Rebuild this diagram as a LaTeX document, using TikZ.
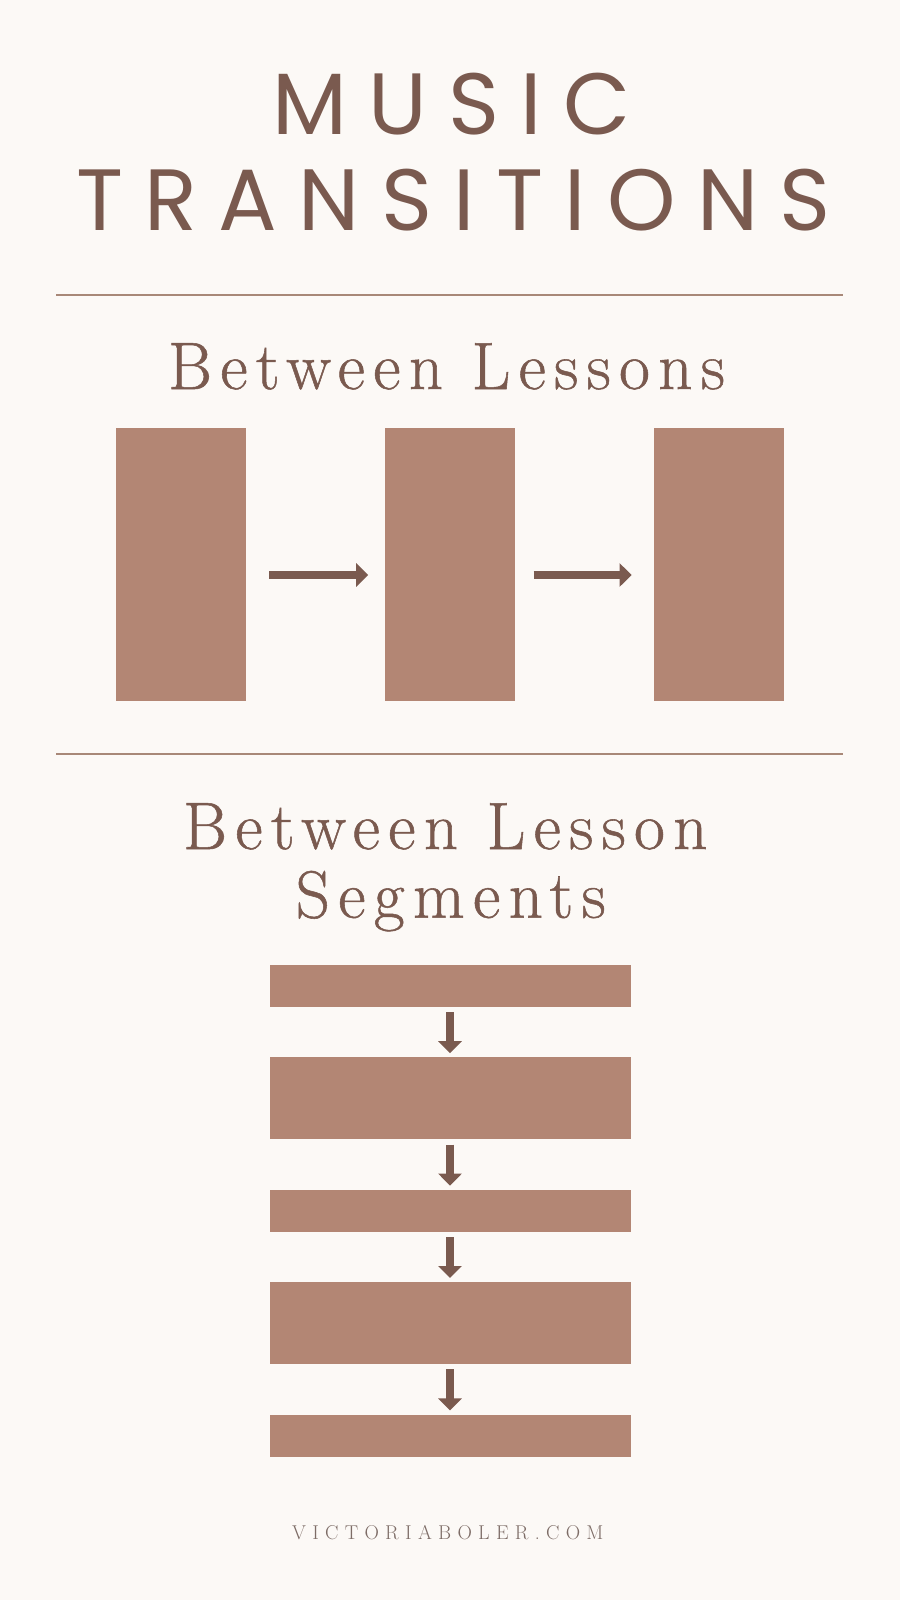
\documentclass[tikz,border=0pt]{standalone}
\usepackage{fontspec}
\usepackage{tikz}
\usetikzlibrary{positioning,arrows.meta}
\newfontfamily\titlefont[LetterSpace=24.5]{Poppins}
\newfontfamily\headfont[LetterSpace=12.5,FakeBold=0.8]{Latin Modern Roman}
\newfontfamily\sitefont[LetterSpace=31.5]{Latin Modern Roman}
\definecolor{paper}{HTML}{FCF9F6}
\definecolor{clay}{HTML}{B38674}
\definecolor{cocoa}{HTML}{7A5A4F}
\definecolor{rulecol}{HTML}{A88878}
\definecolor{ink}{HTML}{7D6C66}

\begin{document}
\begin{tikzpicture}[x=1pt,y=1pt]
	\tikzstyle{every node}+=[inner sep=0pt]
	\tikzstyle{block}=[fill=clay, rectangle]
	\tikzstyle{lessonbox}=[block, minimum width=130pt, minimum height=273pt]
	\tikzstyle{shortseg}=[block, minimum width=361pt, minimum height=42pt]
	\tikzstyle{longseg}=[block, minimum width=361pt, minimum height=82pt]
	\tikzstyle{push}=[draw=cocoa, line width=8pt, -{Triangle[width=23pt,length=12pt]}]
	\fill [paper] (0,0) rectangle (900,-1600);
	\node [anchor=base west, text=cocoa] (music) at (272,-135) {\fontsize{87}{87}\titlefont MUSIC};
	\node [anchor=base west, text=cocoa] (trans) at (76,-230.7) {\fontsize{87}{87}\titlefont TRANSITIONS};
	\draw [rulecol, line width=1.5pt] (56,-295) -- (843,-295);
	\node [anchor=base west, text=cocoa] (lessons) at (168,-389) {\fontsize{67}{67}\headfont Between Lessons};
	\node [lessonbox] (les1) at (181,-564.5) {};
	\node [lessonbox, right=139pt of les1] (les2) {};
	\node [lessonbox, right=138pt of les2] (les3) {};
	\draw [push, shorten <=23pt, shorten >=17pt] ([yshift=-10.5pt]les1.east) -- ([yshift=-10.5pt]les2.west);
	\draw [push, shorten <=18pt, shorten >=22pt] ([yshift=-10.5pt]les2.east) -- ([yshift=-10.5pt]les3.west);
	\draw [rulecol, line width=1.5pt] (56,-754) -- (843,-754);
	\node [anchor=base west, text=cocoa] (seghead1) at (183,-849) {\fontsize{67}{67}\headfont Between Lesson};
	\node [anchor=base west, text=cocoa] (seghead2) at (295.5,-917.7) {\fontsize{67}{67}\headfont Segments};
	\node [shortseg] (seg1) at (450,-986) {};
	\node [longseg, below=50pt of seg1] (seg2) {};
	\node [shortseg, below=50pt of seg2] (seg3) {};
	\node [longseg, below=50pt of seg3] (seg4) {};
	\node [shortseg, below=50pt of seg4] (seg5) {};
	\foreach \a/\b in {seg1/seg2,seg2/seg3,seg3/seg4,seg4/seg5}
		\draw [push, shorten <=5pt, shorten >=4pt] (\a) -- (\b);
	\node [anchor=base west, text=ink] (site) at (292,-1539.3) {\fontsize{20}{20}\sitefont VICTORIABOLER.COM};
\end{tikzpicture}
\end{document}
